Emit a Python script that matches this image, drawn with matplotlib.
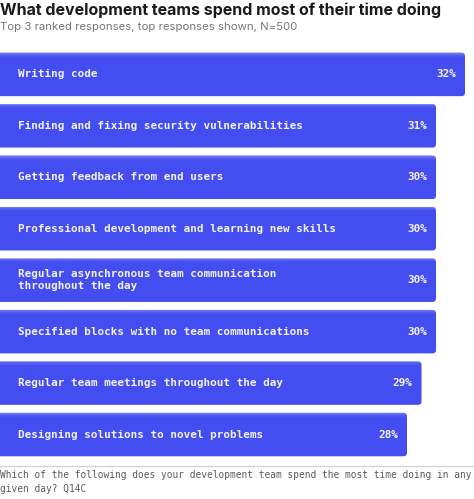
import matplotlib
matplotlib.use('Agg')
import matplotlib.pyplot as plt
from matplotlib.patches import FancyBboxPatch, Rectangle

# ─── Data ────────────────────────────────────────────────
categories = [
    "Writing code",
    "Finding and fixing security vulnerabilities",
    "Getting feedback from end users",
    "Professional development and learning new skills",
    "Regular asynchronous team communication\nthroughout the day",
    "Specified blocks with no team communications",
    "Regular team meetings throughout the day",
    "Designing solutions to novel problems",
]
# bar lengths as drawn in the picture (the 31% bar is drawn as long as the 30% ones)
bar_lengths = [32, 30, 30, 30, 30, 30, 29, 28]
pct_labels = ["32%", "31%", "30%", "30%", "30%", "30%", "29%", "28%"]

TITLE = "What development teams spend most of their time doing"
SUBTITLE = "Top 3 ranked responses, top responses shown, N=500"
FOOTNOTE = ("Which of the following does your development team spend the most time doing in any\n"
            "given day? Q14C")

C = {'bar': '#444ef0', 'txt': '#f2f2ff', 'title': '#1a1a1a', 'sub': '#777777',
     'foot': '#5a5a5a', 'rule': '#d4d4d4'}

W, H = 474, 499
PX_PER_UNIT = 14.5      # horizontal px per percent
PITCH = 51.45           # vertical px per bar
Y0 = 74.4               # centre of first bar, px from top

fig = plt.figure(figsize=(W / 100, H / 100), dpi=100)
ax = fig.add_axes([0, 0, 1, 1])
ax.set_xlim(-1 / PX_PER_UNIT, (W - 1) / PX_PER_UNIT)
ax.set_ylim((H - Y0) / PITCH, -Y0 / PITCH)
ax.axis('off')

bars = ax.barh(range(len(categories)), bar_lengths, height=0.845, color=C['bar'])

# swap plain bars for rounded ones, with a soft highlight on the top edge
aspect = PX_PER_UNIT / PITCH
r = 3.5 / PX_PER_UNIT
for b in bars:
    x, y, w, h = b.get_x(), b.get_y(), b.get_width(), b.get_height()
    b.set_visible(False)
    p = FancyBboxPatch((x - 1 + r, y + r * aspect), w + 1 - 2 * r, h - 2 * r * aspect,
                       boxstyle=f"round,pad={r},rounding_size={r}",
                       mutation_aspect=aspect, fc=C['bar'], ec='none')
    ax.add_patch(p)
    for k, a in enumerate([0.22, 0.14, 0.08, 0.04]):
        hl = Rectangle((x - 1, y + k / PITCH), w + 1, 1 / PITCH, fc='white', ec='none', alpha=a)
        ax.add_patch(hl)
        hl.set_clip_path(p)

mono = ['DejaVu Sans Mono']
for i, (cat, L, lab) in enumerate(zip(categories, bar_lengths, pct_labels)):
    ax.text(17 / PX_PER_UNIT, i, cat, ha='left', va='center', color=C['txt'],
            family=mono, weight='bold', fontsize=7.9, linespacing=1.3)
    ax.text(L - 9 / PX_PER_UNIT, i, lab, ha='right', va='center', color=C['txt'],
            family=mono, weight='bold', fontsize=7.9)

def fy(px):
    return 1 - px / H

fig.text(0, fy(10), TITLE, ha='left', va='center', fontsize=11.5, weight='bold',
         family=['Inter', 'DejaVu Sans'], color=C['title'])
fig.text(0, fy(27), SUBTITLE, ha='left', va='center', fontsize=8.2,
         family=['Inter', 'DejaVu Sans'], color=C['sub'])

fig.add_artist(plt.Line2D([0, 1], [fy(466), fy(466)], color=C['rule'], lw=1))
fig.text(0, fy(470), FOOTNOTE, ha='left', va='top', fontsize=6.85, family=mono,
         color=C['foot'], linespacing=1.45)

fig.savefig('out.png', dpi=100)
